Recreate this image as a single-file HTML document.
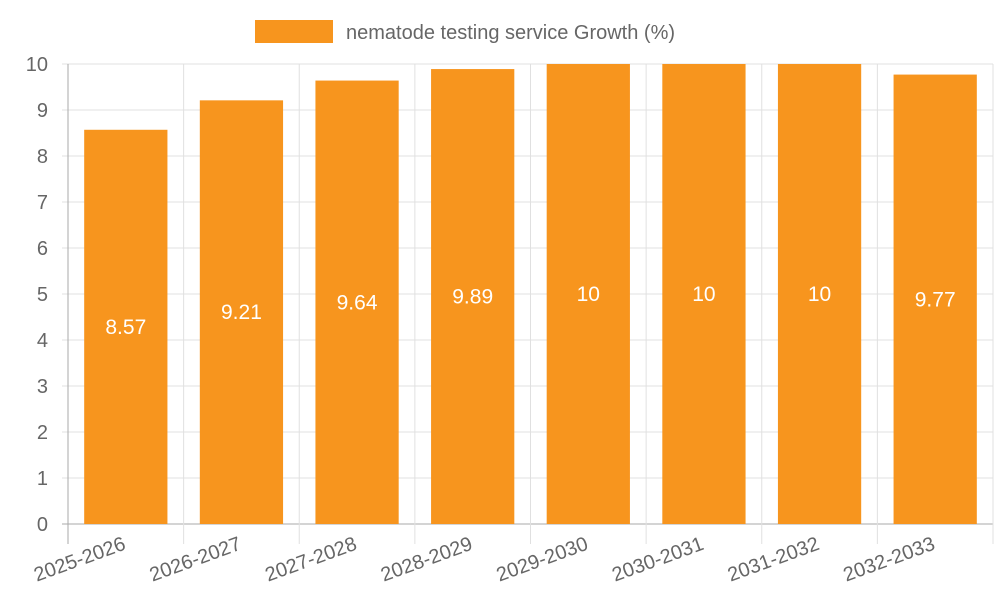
<!DOCTYPE html>
<html><head><meta charset="utf-8"><style>body{margin:0;background:#fff}svg{display:block;font-family:"Liberation Sans",sans-serif}</style></head>
<body>
<svg id="c" width="1000" height="600">
<g>
<rect x="255" y="20" width="78" height="23" fill="#f7951e"/>
<text x="346" y="39" font-size="20" fill="#666">nematode testing service Growth (%)</text>
</g>
</svg>
<script>
const categories=["2025-2026","2026-2027","2027-2028","2028-2029","2029-2030","2030-2031","2031-2032","2032-2033"];
const values=[8.57,9.21,9.64,9.89,10,10,10,9.77];
const labels=["8.57","9.21","9.64","9.89","10","10","10","9.77"];
const yTicks=[0,1,2,3,4,5,6,7,8,9,10];
const svg=document.getElementById('c');const NS="http://www.w3.org/2000/svg";
const L=68,R=993,T=64,B=524,yMax=10;
const bw=(R-L)/categories.length;
const y=v=>B-(v/yMax)*(B-T);
const x=i=>L+bw*i;
function mk(t,a,p){const e=document.createElementNS(NS,t);for(const k in a)e.setAttribute(k,a[k]);(p||svg).appendChild(e);return e;}
const grid=mk('g',{});


yTicks.forEach(v=>{const l=mk('line',{x1:L-6,x2:R,y1:y(v),y2:y(v),stroke:v===0?'#aaa':'#e0e0e0','stroke-width':1},grid);


const t=mk('text',{x:L-20,y:y(v)+7,'text-anchor':'end','font-size':20,fill:'#666'});t.textContent=v;

});
for(let i=0;i<=categories.length;i++){const l=mk('line',{x1:x(i),x2:x(i),y1:T,y2:B+20,stroke:i===0?'#aaa':'#e0e0e0','stroke-width':1},grid);

}
categories.forEach((c,i)=>{const cx=x(i)+bw/2,w=bw*0.72;
const r=mk('rect',{x:cx-w/2,y:y(values[i]),width:w,height:B-y(values[i]),fill:'#f7951e'});


const t=mk('text',{x:cx,y:(y(values[i])+B)/2+7,'text-anchor':'middle','font-size':21,fill:'#fff'});t.textContent=labels[i];


const xl=mk('text',{x:0,y:0,'text-anchor':'end','font-size':20,fill:'#666',transform:`translate(${cx+1},${B+25}) rotate(-20)`});xl.textContent=c;

});
</script>
</body></html>
